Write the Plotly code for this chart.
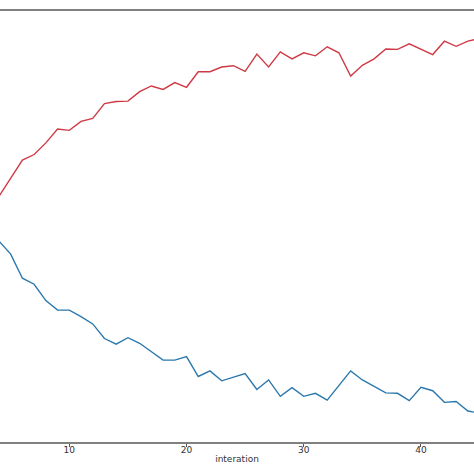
import plotly.graph_objects as go

iterations = list(range(4, 46))

red_series = [0.570, 0.613, 0.654, 0.667, 0.694, 0.726, 0.723, 0.744, 0.751, 0.785,
              0.790, 0.791, 0.813, 0.826, 0.818, 0.834, 0.823, 0.859, 0.859, 0.870,
              0.873, 0.860, 0.900, 0.870, 0.905, 0.889, 0.903, 0.896, 0.917, 0.903,
              0.849, 0.874, 0.889, 0.912, 0.911, 0.924, 0.911, 0.899, 0.930, 0.918,
              0.930, 0.936]

blue_series = [0.466, 0.436, 0.380, 0.366, 0.328, 0.306, 0.306, 0.291, 0.274, 0.240,
               0.227, 0.242, 0.229, 0.209, 0.190, 0.190, 0.198, 0.152, 0.165, 0.142,
               0.150, 0.159, 0.122, 0.144, 0.106, 0.126, 0.106, 0.113, 0.097, 0.132,
               0.165, 0.144, 0.128, 0.114, 0.113, 0.096, 0.127, 0.119, 0.092, 0.094,
               0.072, 0.067]

x_ticks = [10, 20, 30, 40]
x_title = "interation"

fig = go.Figure()
fig.add_trace(go.Scatter(x=iterations, y=red_series, mode="lines",
                         line=dict(color="#cf3a45", width=1.4), showlegend=False))
fig.add_trace(go.Scatter(x=iterations, y=blue_series, mode="lines",
                         line=dict(color="#2a78ad", width=1.4), showlegend=False))

fig.update_layout(
    width=474, height=474,
    margin=dict(l=0, r=0, t=11, b=32),
    paper_bgcolor="white", plot_bgcolor="white",
    font=dict(family="DejaVu Sans", size=9, color="#333333"),
)
fig.update_xaxes(
    range=[4.089, 44.522],
    tickvals=x_ticks, ticktext=[str(t) for t in x_ticks],
    ticks="outside", ticklen=3, tickcolor="#555555", tickwidth=1,
    ticklabelstandoff=-5,
    showgrid=False, zeroline=False,
    showline=True, linecolor="#808080", linewidth=1.5, mirror=True,
    title=dict(text=x_title, standoff=2, font=dict(size=9)),
    automargin=False,
)
fig.update_yaxes(
    range=[0, 1], showticklabels=False, ticks="",
    showgrid=False, zeroline=False, showline=False,
)

fig.write_html("out.html", config={"displayModeBar": False},
               post_script="document.body.style.margin='0';document.body.style.padding='0';")
